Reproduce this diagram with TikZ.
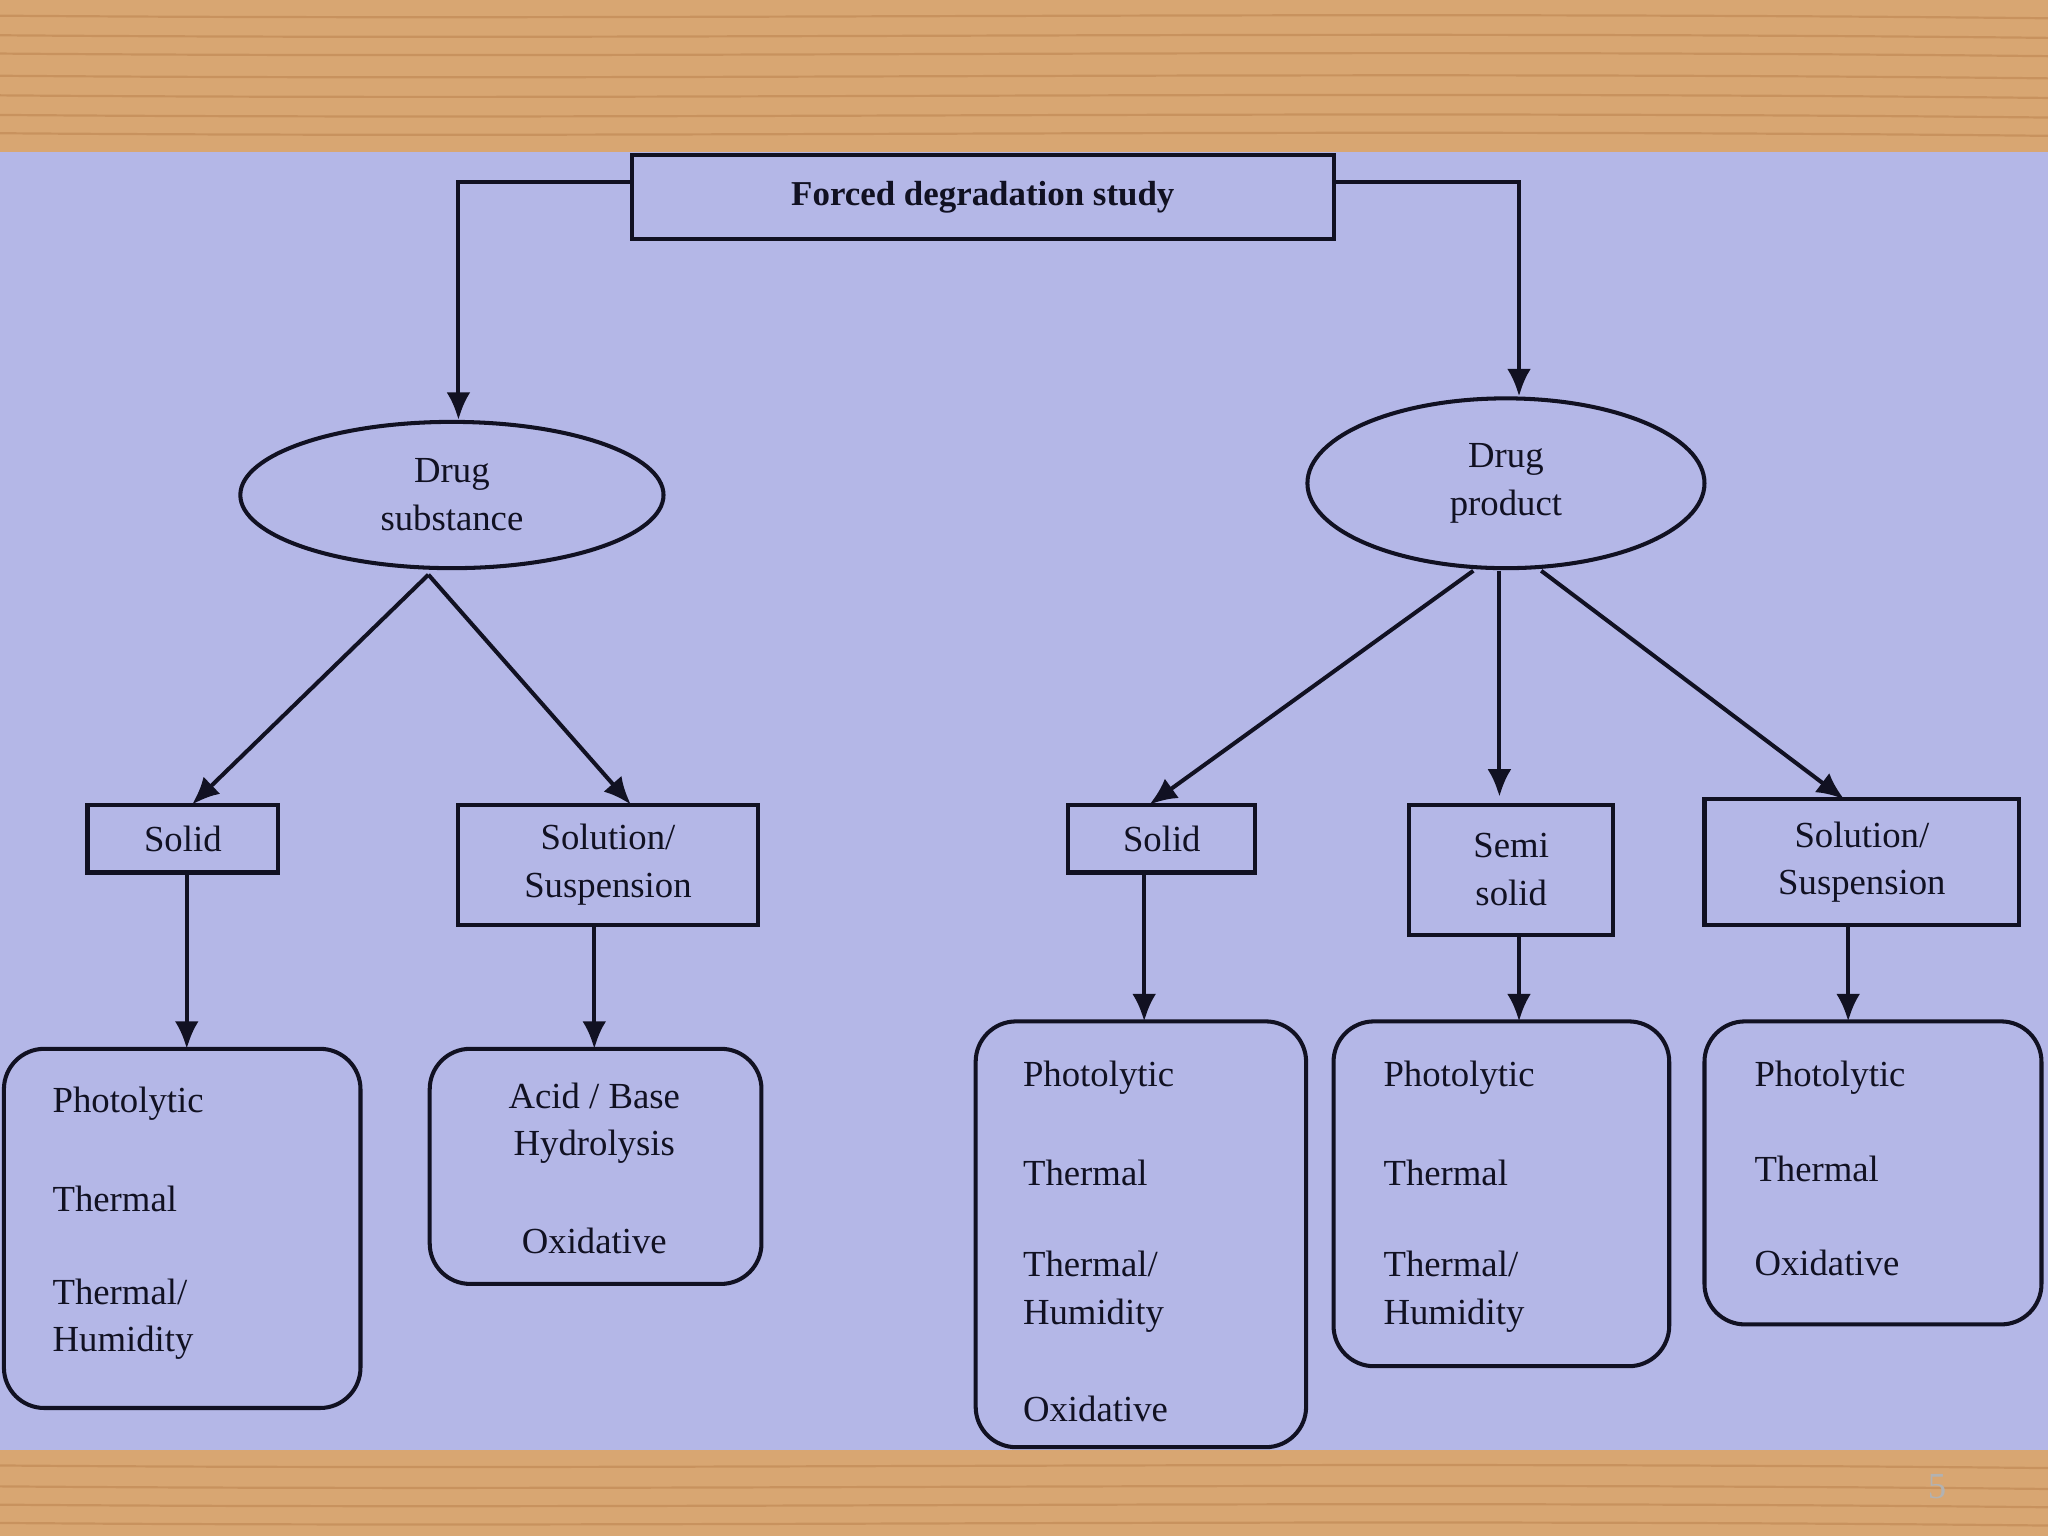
\documentclass[tikz,border=0pt]{standalone}
\usepackage{fontspec}
\setmainfont{Liberation Serif}
\usetikzlibrary{arrows.meta,shapes.geometric}
\definecolor{lav}{HTML}{B4B7E7}
\definecolor{wood}{HTML}{D8A672}
\definecolor{woodd}{HTML}{B9804C}
\definecolor{ink}{HTML}{111122}
\begin{document}
\begin{tikzpicture}[x=0.025cm,y=-0.025cm,
  ln/.style={draw=ink,line width=2.2pt},
  arr/.style={ln,-{Latex[length=15pt,width=13pt]}},
  box/.style={ln,fill=none},
  rbox/.style={ln,rounded corners=22pt},
  txt/.style={font=\fontsize{20}{26}\selectfont,text=ink,inner sep=0pt},
  lt/.style={txt,anchor=west,align=left}]
\useasboundingbox (0,0) rectangle (1568,1176);
\fill[wood] (0,0) rectangle (1568,1176);
\foreach \y in {12,27,41,58,73,88,102,1122,1138,1152,1166}{
  \draw[woodd,line width=1.2pt,opacity=0.5] (0,\y) .. controls (500,\y+4) and (1000,\y-4) .. (1568,\y+2);}
\fill[lav] (0,116) rectangle (1568,1110);
\node[txt,text=gray!60] (pg) at (1483,1138) {5};
% top
\node[box,minimum width=537*0.025cm,minimum height=64*0.025cm,txt,font=\fontsize{19}{24}\selectfont\bfseries] (t) at (752.5,151) {Forced degradation study};
\node[ln,ellipse,minimum width=324*0.025cm,minimum height=112*0.025cm,txt,align=center] (ds) at (346,379) {Drug\\substance};
\node[ln,ellipse,minimum width=304*0.025cm,minimum height=130*0.025cm,txt,align=center] (dp) at (1153,370) {Drug\\product};
\coordinate (c1) at (351,139); \coordinate (c2) at (1163,139);
\draw[arr] (t.west|-c1) -- (c1) -- (ds.north-|c1);
\draw[arr] (t.east|-c2) -- (c2) -- (dp.north-|c2);
% middle boxes
\node[box,txt,minimum width=146*0.025cm,minimum height=52*0.025cm] (s1) at (140,642) {Solid};
\node[box,txt,align=center,minimum width=229*0.025cm,minimum height=92*0.025cm] (s2) at (465.5,662) {Solution/\\Suspension};
\node[box,txt,minimum width=143*0.025cm,minimum height=52*0.025cm] (s3) at (889.5,642) {Solid};
\node[box,txt,align=center,minimum width=156*0.025cm,minimum height=100*0.025cm] (s4) at (1157,666) {Semi\\solid};
\node[box,txt,align=center,minimum width=241*0.025cm,minimum height=96*0.025cm] (s5) at (1425.5,660) {Solution/\\Suspension};
\coordinate (e1) at (328,440); \coordinate (e2) at (1128,437); \coordinate (e3) at (1148,437); \coordinate (e4) at (1180,437);
\draw[arr] (e1) -- (147,616);
\draw[arr] (e1) -- (483,616);
\draw[arr] (e2) -- (880,616);
\draw[arr] (e3) -- (1148,610);
\draw[arr] (e4) -- (1412,612);
% bottom boxes
\draw[rbox] (3,803) rectangle (276,1078);
\draw[rbox] (329,803) rectangle (583,983);
\draw[rbox] (747,782) rectangle (1000,1108);
\draw[rbox] (1021,782) rectangle (1278,1046);
\draw[rbox] (1305,782) rectangle (1563,1014);
\draw[arr] (s1.south-|143,0) -- (143,803);
\draw[arr] (s2.south-|455,0) -- (455,803);
\draw[arr] (s3.south-|876,0) -- (876,782);
\draw[arr] (s4.south-|1163,0) -- (1163,782);
\draw[arr] (s5.south-|1415,0) -- (1415,782);
% texts
\node[lt] (a1) at (40,845) {Photolytic};
\node[lt] (a2) at (40,918) {Thermal};
\node[lt] (a3) at (40,1010) {Thermal/\\Humidity};
\node[txt,align=center] (b1t) at (455,860) {Acid / Base\\Hydrolysis};
\node[txt] (b2t) at (455,950) {Oxidative};
\node[lt] (c1t) at (783,825) {Photolytic};
\node[lt] (c2t) at (783,898) {Thermal};
\node[lt] (c3t) at (783,989) {Thermal/\\Humidity};
\node[lt] (c4t) at (783,1079) {Oxidative};
\node[lt] (d1t) at (1059,825) {Photolytic};
\node[lt] (d2t) at (1059,898) {Thermal};
\node[lt] (d3t) at (1059,989) {Thermal/\\Humidity};
\node[lt] (e1t) at (1343,825) {Photolytic};
\node[lt] (e2t) at (1343,895) {Thermal};
\node[lt] (e3t) at (1343,967) {Oxidative};
\end{tikzpicture}
\end{document}
